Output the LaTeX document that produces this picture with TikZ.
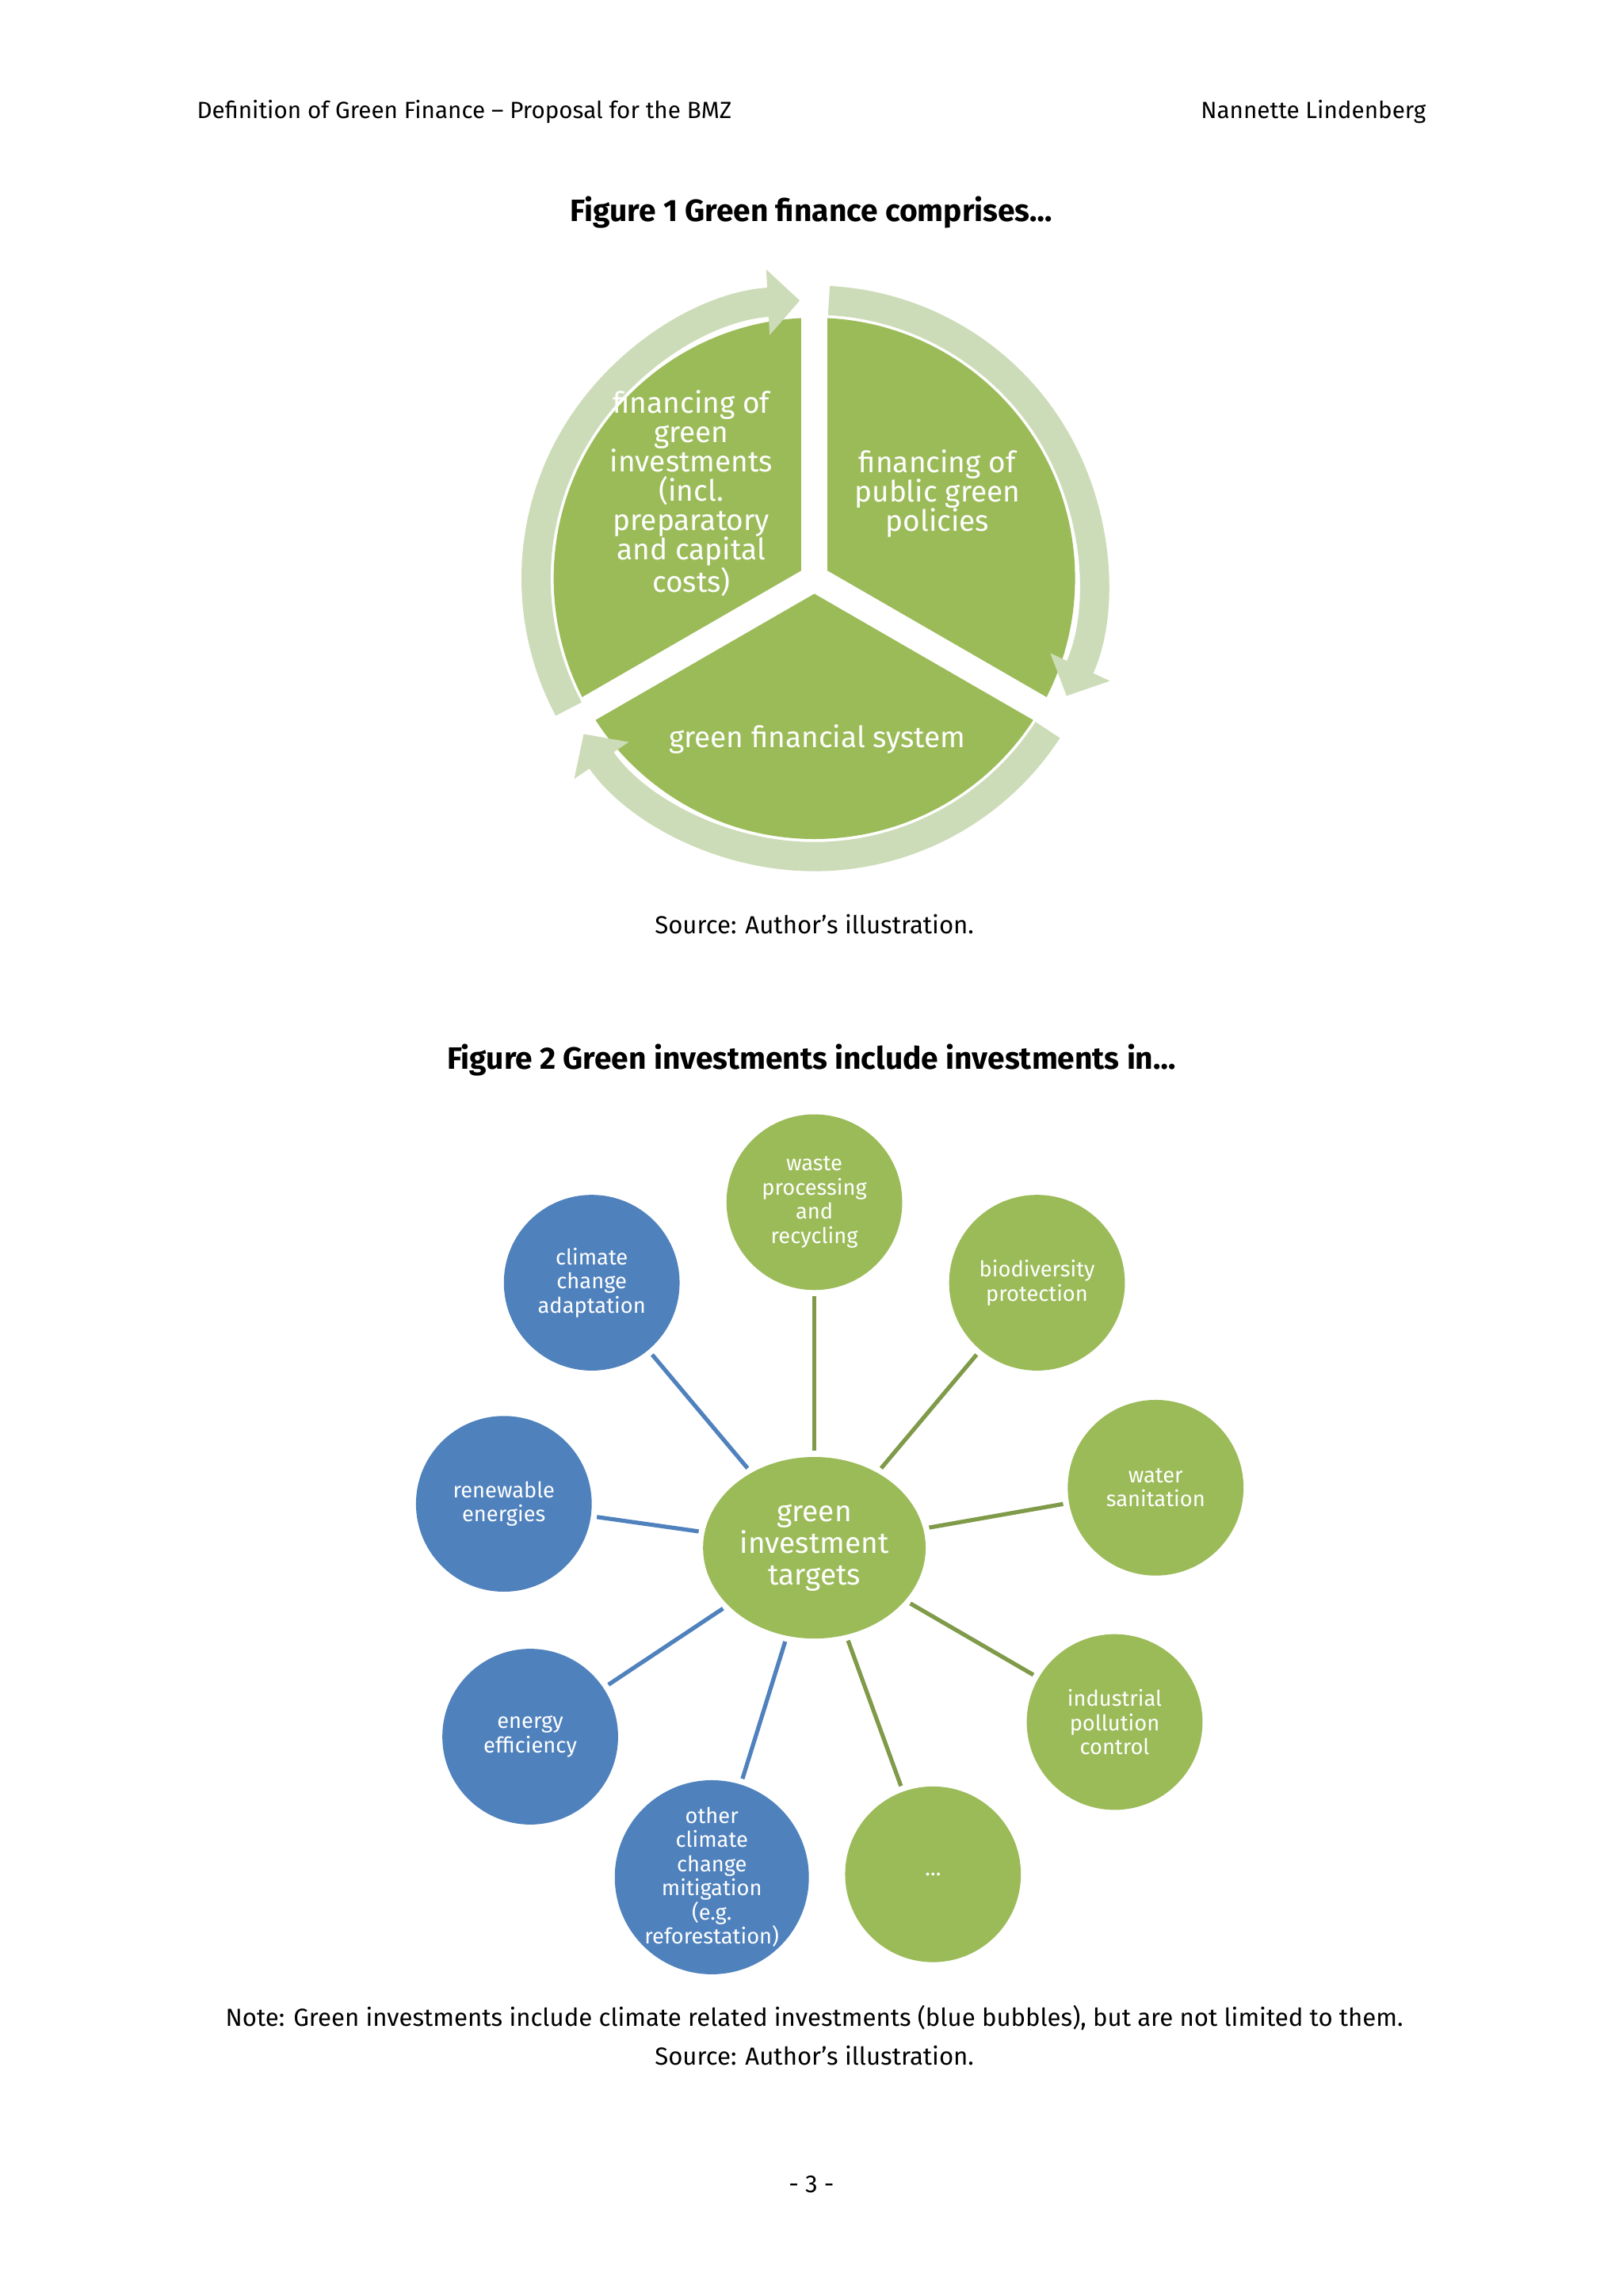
\documentclass[tikz,border=0pt]{standalone}
\usepackage{fontspec}
\setmainfont{Fira Sans}
\usetikzlibrary{arrows.meta,shapes.geometric}
\definecolor{pie}{HTML}{9BBB59}
\definecolor{ringc}{HTML}{CDDCB8}
\definecolor{blu}{HTML}{4F81BD}
\definecolor{olive}{HTML}{7F9A48}
\begin{document}
\begin{tikzpicture}[x=0.05cm,y=0.05cm,
  ring/.style={ringc,line width=28.4pt,-{Triangle[width=62pt,length=31pt]}},
  gb/.style={circle,fill=pie,minimum size=6cm,inner sep=0pt,text=white,align=center,font=\fontsize{21}{23.5}\selectfont},
  bb/.style={gb,fill=blu},
  gl/.style={olive,line width=4pt,shorten <=0.2cm,shorten >=0.2cm},
  bl/.style={blu,line width=4pt,shorten <=0.2cm,shorten >=0.2cm},
  pl/.style={text=white,align=center,font=\fontsize{28.5}{28.5}\selectfont}]
\useasboundingbox (0,0) rectangle (1108,-1568);
\fill[white] (0,0) rectangle (1108,-1568);
% header
\node[anchor=base west,font=\fontsize{22.8}{26}\selectfont] (h1) at (132,-81) {Definition of Green Finance – Proposal for the BMZ};
\node[anchor=base east,font=\fontsize{22.8}{26}\selectfont] (h2) at (976,-81) {Nannette Lindenberg};
\node[font=\fontsize{30}{34}\selectfont\bfseries] (t1) at (554,-145) {Figure 1 Green finance comprises…};
% figure 1
\coordinate (c) at (556,-395);
\fill[pie] (c) circle[radius=8.9cm];
\foreach \a in {90,-30,210} \draw[white,line width=25.6pt] (c) -- ++(\a:8.95cm);
\draw[ring] ([shift={(208:9.5cm)}]c) arc[start angle=208,end angle=93,radius=9.5cm];
\draw[ring] ([shift={(87:9.5cm)}]c) arc[start angle=87,end angle=-25,radius=9.5cm];
\draw[ring] ([shift={(-33:9.5cm)}]c) arc[start angle=-33,end angle=-146,radius=9.5cm];
\node[pl] (p1) at (472,-337) {financing of\\green\\investments\\(incl.\\preparatory\\and capital\\costs)};
\node[pl] (p2) at (640,-337) {financing of\\public green\\policies};
\node[pl] (p3) at (558,-505) {green financial system};
\node[font=\fontsize{24}{28}\selectfont] (s1) at (556,-631) {Source: Author’s illustration.};
\node[font=\fontsize{30}{34}\selectfont\bfseries] (t2) at (554,-724) {Figure 2 Green investments include investments in…};
% figure 2
\node[ellipse,fill=pie,minimum width=7.6cm,minimum height=6.2cm,inner sep=0pt,text=white,align=center,font=\fontsize{28.5}{31}\selectfont] (hub) at (556,-1057) {green\\investment\\targets};
\node[gb] (w) at (556,-821) {waste\\processing\\and\\recycling};
\node[gb] (bio) at (708,-876) {biodiversity\\protection};
\node[gb] (wat) at (789,-1016) {water\\sanitation};
\node[gb] (ind) at (761,-1176) {industrial\\pollution\\control};
\node[gb] (dots) at (637,-1280) {…};
\node[bb] (oth) at (486,-1282) {other\\climate\\change\\mitigation\\(e.g.\\reforestation)};
\node[bb] (ee) at (362,-1186) {energy\\efficiency};
\node[bb] (ren) at (344,-1027) {renewable\\energies};
\node[bb] (cca) at (404,-876) {climate\\change\\adaptation};
\foreach \n in {w,bio,wat,ind,dots} \draw[gl] (hub) -- (\n);
\foreach \n in {oth,ee,ren,cca} \draw[bl] (hub) -- (\n);
\node[font=\fontsize{24}{28}\selectfont] (note) at (556,-1378) {Note: Green investments include climate related investments (blue bubbles), but are not limited to them.};
\node[font=\fontsize{24}{28}\selectfont] (s2) at (556,-1404) {Source: Author’s illustration.};
\node[font=\fontsize{24}{28}\selectfont] (pg) at (554,-1492) {- 3 -};
\end{tikzpicture}
\end{document}
